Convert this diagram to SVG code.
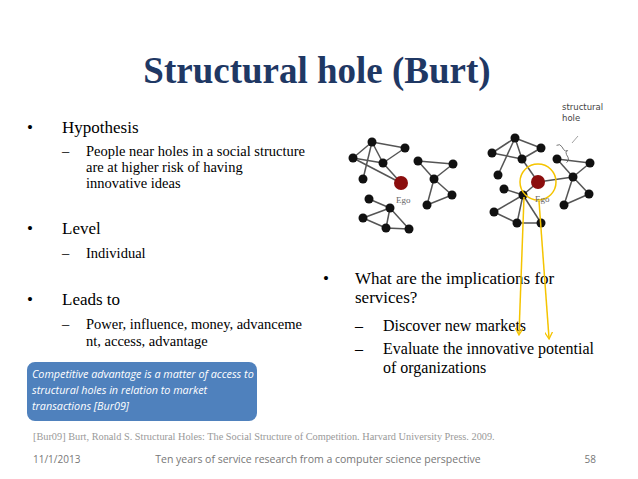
<svg xmlns="http://www.w3.org/2000/svg" width="638" height="479" viewBox="0 0 638 479">
<defs>
<style>
.t{font-family:"Liberation Serif",serif;fill:#000}
.s{font-family:"Open Sans","Liberation Sans",sans-serif}
.e line{stroke:#555;stroke-width:1.5}
.n circle{fill:#111}
.y{stroke:#f5c400;stroke-width:1.5;fill:none}
</style>
<marker id="ah" markerWidth="8" markerHeight="8" refX="6" refY="4" orient="auto" markerUnits="userSpaceOnUse"><path d="M0,0 L7,4 L0,8" fill="none" stroke="#f5c400" stroke-width="1.3"/></marker>
</defs>
<rect width="638" height="479" fill="#fff"/>
<text x="317" y="83" text-anchor="middle" font-family="Liberation Serif,serif" font-size="37" font-weight="bold" fill="#1f3864">Structural hole (Burt)</text>
<g id="left-text">
<text x="27" y="133" font-size="17" class="t">•</text><text x="62" y="133" font-size="17" class="t">Hypothesis</text>
<text x="62" y="156" font-size="14.5" class="t">–</text>
<text x="86" y="156" font-size="14.5" class="t">People near holes in a social structure</text>
<text x="86" y="172" font-size="14.5" class="t">are at higher risk of having</text>
<text x="86" y="188" font-size="14.5" class="t">innovative ideas</text>
<text x="27" y="234" font-size="17" class="t">•</text><text x="62" y="234" font-size="17" class="t">Level</text>
<text x="62" y="258" font-size="14.5" class="t">–</text><text x="86" y="258" font-size="14.5" class="t">Individual</text>
<text x="27" y="305" font-size="17" class="t">•</text><text x="62" y="305" font-size="17" class="t">Leads to</text>
<text x="62" y="329" font-size="14.5" class="t">–</text>
<text x="86" y="329" font-size="14.5" class="t">Power, influence, money, advanceme</text>
<text x="86" y="346" font-size="14.5" class="t">nt, access, advantage</text>
</g>
<g id="callout">
<rect x="27" y="362" width="230" height="59" rx="8" fill="#4f81bd"/>
<g class="s" font-size="10.8" font-style="italic" fill="#fff">
<text x="32" y="378">Competitive advantage is a matter of access to</text>
<text x="32" y="394">structural holes in relation to market</text>
<text x="32" y="410">transactions [Bur09]</text>
</g>
</g>
<g id="implications">
<text class="t" x="323" y="284" font-size="17">•</text>
<text class="t" x="355" y="284" font-size="17">What are the implications for</text>
<text class="t" x="355" y="303" font-size="17">services?</text>
<text class="t" x="355" y="331" font-size="16">–</text><text class="t" x="383" y="331" font-size="16">Discover new markets</text>
<text class="t" x="355" y="354" font-size="16">–</text><text class="t" x="383" y="354" font-size="16">Evaluate the innovative potential</text>
<text class="t" x="383" y="373" font-size="16">of organizations</text>
</g>
<g id="network-left">
<g class="e">
<line x1="372" y1="142" x2="405" y2="148"/><line x1="372" y1="142" x2="353" y2="158"/><line x1="372" y1="142" x2="383" y2="163"/><line x1="372" y1="142" x2="363" y2="179"/>
<line x1="353" y1="158" x2="383" y2="163"/><line x1="353" y1="158" x2="401" y2="183"/><line x1="383" y1="163" x2="405" y2="148"/><line x1="383" y1="163" x2="401" y2="183"/>
<line x1="418" y1="161" x2="453" y2="164"/><line x1="418" y1="161" x2="434" y2="179"/><line x1="453" y1="164" x2="434" y2="179"/><line x1="434" y1="179" x2="452" y2="195"/><line x1="434" y1="179" x2="427" y2="205"/><line x1="452" y1="195" x2="427" y2="205"/>
<line x1="369" y1="199" x2="390" y2="208"/><line x1="390" y1="208" x2="363" y2="218"/><line x1="390" y1="208" x2="386" y2="228"/><line x1="363" y1="218" x2="386" y2="228"/><line x1="386" y1="228" x2="409" y2="229"/><line x1="390" y1="208" x2="409" y2="229"/>
</g>
<g class="n">
<circle cx="372" cy="142" r="4.5"/><circle cx="405" cy="148" r="4.5"/><circle cx="353" cy="158" r="4.5"/><circle cx="383" cy="163" r="4.5"/><circle cx="363" cy="179" r="4.5"/>
<circle cx="418" cy="161" r="4.5"/><circle cx="453" cy="164" r="4.5"/><circle cx="434" cy="179" r="4.5"/><circle cx="452" cy="195" r="4.5"/><circle cx="427" cy="205" r="4.5"/>
<circle cx="369" cy="199" r="4.5"/><circle cx="390" cy="208" r="4.5"/><circle cx="363" cy="218" r="4.5"/><circle cx="386" cy="228" r="4.5"/><circle cx="409" cy="229" r="4.5"/>
</g>
<circle cx="401" cy="183" r="7" fill="#8b0d0d"/>
<text x="396" y="203" font-family="Liberation Serif,serif" font-size="9" fill="#666">Ego</text>
</g>
<g id="network-right">
<g class="e">
<line x1="515" y1="138" x2="541" y2="148"/><line x1="515" y1="138" x2="492" y2="153"/><line x1="515" y1="138" x2="522" y2="159"/><line x1="515" y1="138" x2="498" y2="175"/>
<line x1="492" y1="153" x2="522" y2="159"/><line x1="522" y1="159" x2="541" y2="148"/><line x1="522" y1="159" x2="538" y2="182"/><line x1="538" y1="182" x2="573" y2="177"/><line x1="538" y1="182" x2="523" y2="195"/>
<line x1="557" y1="159" x2="590" y2="163"/><line x1="557" y1="159" x2="573" y2="177"/><line x1="590" y1="163" x2="573" y2="177"/><line x1="573" y1="177" x2="589" y2="194"/><line x1="573" y1="177" x2="564" y2="205"/><line x1="589" y1="194" x2="564" y2="205"/>
<line x1="504" y1="189" x2="523" y2="195"/><line x1="523" y1="195" x2="494" y2="212"/><line x1="523" y1="195" x2="517" y2="223"/><line x1="494" y1="212" x2="517" y2="223"/><line x1="517" y1="223" x2="541" y2="223"/><line x1="523" y1="195" x2="541" y2="223"/>
</g>
<g class="n">
<circle cx="515" cy="138" r="4.5"/><circle cx="541" cy="148" r="4.5"/><circle cx="492" cy="153" r="4.5"/><circle cx="522" cy="159" r="4.5"/><circle cx="498" cy="175" r="4.5"/>
<circle cx="557" cy="159" r="4.5"/><circle cx="590" cy="163" r="4.5"/><circle cx="573" cy="177" r="4.5"/><circle cx="589" cy="194" r="4.5"/><circle cx="564" cy="205" r="4.5"/>
<circle cx="504" cy="189" r="4.5"/><circle cx="523" cy="195" r="4.5"/><circle cx="494" cy="212" r="4.5"/><circle cx="517" cy="223" r="4.5"/><circle cx="541" cy="223" r="4.5"/>
</g>
<circle cx="538" cy="182" r="7" fill="#8b0d0d"/>
<circle class="y" cx="538" cy="182" r="18"/>
<text x="535" y="202" font-family="Liberation Serif,serif" font-size="9" fill="#666">Ego</text>
<text x="562" y="110" font-family="DejaVu Sans,sans-serif" font-size="8.5" fill="#444">structural</text>
<text x="562" y="121" font-family="DejaVu Sans,sans-serif" font-size="8.5" fill="#444">hole</text>
<path d="M561,142 q4,0 4,4 v3 q0,3 3,3 q-3,0 -3,3 v3 q0,4 -4,4" fill="none" stroke="#666" stroke-width="0.8" transform="rotate(-30 565 152)"/>
<line x1="572" y1="143" x2="578" y2="136" stroke="#888" stroke-width="0.8"/>
</g>
<g id="connectors">
<line class="y" x1="524" y1="197" x2="519" y2="334" marker-end="url(#ah)"/>
<line class="y" x1="539" y1="201" x2="549" y2="338" marker-end="url(#ah)"/>
</g>
<g id="footer">
<text x="33" y="440" font-family="Liberation Serif,serif" font-size="10.3" fill="#999">[Bur09] Burt, Ronald S. Structural Holes: The Social Structure of Competition. Harvard University Press. 2009.</text>
<text x="33" y="463" class="s" font-size="10" fill="#777">11/1/2013</text>
<text x="318" y="463" class="s" font-size="10.5" fill="#777" text-anchor="middle">Ten years of service research from a computer science perspective</text>
<text x="596" y="463" class="s" font-size="10" fill="#777" text-anchor="end">58</text>
</g>
</svg>
